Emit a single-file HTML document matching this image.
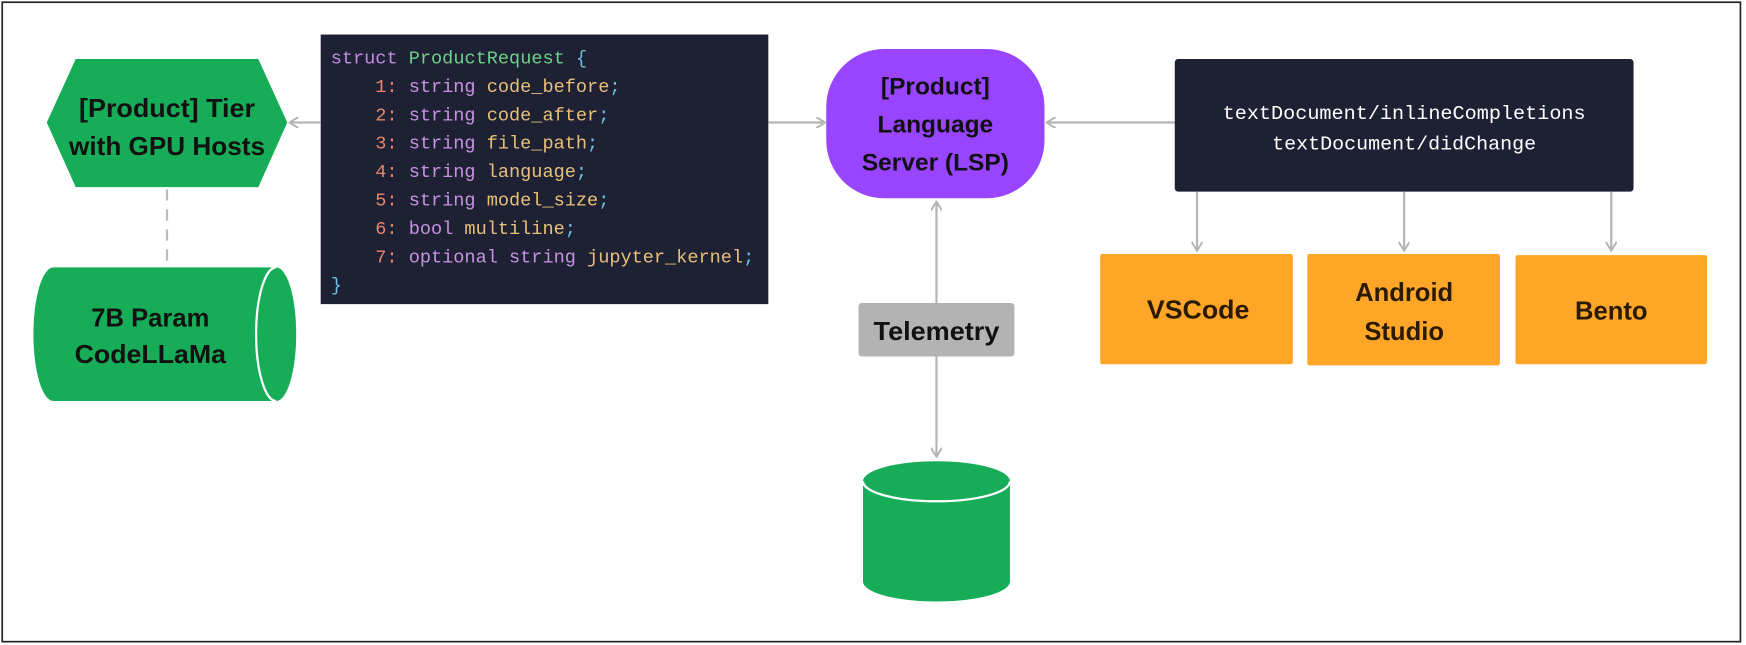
<!DOCTYPE html>
<html><head><meta charset="utf-8"><style>
html,body{margin:0;padding:0;background:#fff;}
svg{display:block;}
.b{font-family:"Liberation Sans",sans-serif;font-weight:bold;text-anchor:middle;}
.m{font-family:"Liberation Mono",monospace;}
</style></head><body>
<svg width="1746" height="645" viewBox="0 0 1568 579" preserveAspectRatio="none" xmlns="http://www.w3.org/2000/svg">
<defs>
<marker id="a" viewBox="0 0 10 10" refX="9" refY="5" markerWidth="10" markerHeight="10" markerUnits="userSpaceOnUse" orient="auto">
<path d="M1,0 L9,5 L1,10" fill="none" stroke="#b5b5b5" stroke-width="1.8"/>
</marker>
</defs>
<rect x="2" y="2" width="1561" height="574" fill="#fff" stroke="#222" stroke-width="1.5"/>

<!-- hexagon -->
<polygon points="42,110 68,53 232,53 258,110 232,168 68,168" fill="#17ad58"/>
<text class="b" x="150" y="105" font-size="23" fill="#111" textLength="158" lengthAdjust="spacingAndGlyphs">[Product] Tier</text>
<text class="b" x="150" y="139" font-size="23" fill="#111" textLength="176" lengthAdjust="spacingAndGlyphs">with GPU Hosts</text>
<line x1="150" y1="170" x2="150" y2="238" stroke="#bbb" stroke-width="2" stroke-dasharray="10,8"/>

<!-- horizontal cylinder -->
<path d="M48,240 L248,240 A18,60 0 0 1 248,360 L48,360 A18,60 0 0 1 48,240 Z" fill="#17ad58"/>
<path d="M248,240 A18,60 0 0 0 248,360" fill="none" stroke="#fff" stroke-width="2"/>
<text class="b" x="135" y="293" font-size="23" fill="#111" textLength="106" lengthAdjust="spacingAndGlyphs">7B Param</text>
<text class="b" x="135" y="326" font-size="23" fill="#111" textLength="136" lengthAdjust="spacingAndGlyphs">CodeLLaMa</text>

<!-- code box -->
<rect x="288" y="31" width="402" height="242" fill="#1e2133"/>
<g class="m" font-size="16.7">
<text x="297" y="57"><tspan fill="#c08ee0">struct </tspan><tspan fill="#6fd08a">ProductRequest </tspan><tspan fill="#6cc0e0">{</tspan></text>
<text x="337" y="82.5"><tspan fill="#e8866a">1: </tspan><tspan fill="#c593e0">string </tspan><tspan fill="#e8c07a">code_before</tspan><tspan fill="#6cc0e0">;</tspan></text>
<text x="337" y="108"><tspan fill="#e8866a">2: </tspan><tspan fill="#c593e0">string </tspan><tspan fill="#e8c07a">code_after</tspan><tspan fill="#6cc0e0">;</tspan></text>
<text x="337" y="133.5"><tspan fill="#e8866a">3: </tspan><tspan fill="#c593e0">string </tspan><tspan fill="#e8c07a">file_path</tspan><tspan fill="#6cc0e0">;</tspan></text>
<text x="337" y="159"><tspan fill="#e8866a">4: </tspan><tspan fill="#c593e0">string </tspan><tspan fill="#e8c07a">language</tspan><tspan fill="#6cc0e0">;</tspan></text>
<text x="337" y="184.5"><tspan fill="#e8866a">5: </tspan><tspan fill="#c593e0">string </tspan><tspan fill="#e8c07a">model_size</tspan><tspan fill="#6cc0e0">;</tspan></text>
<text x="337" y="210"><tspan fill="#e8866a">6: </tspan><tspan fill="#c593e0">bool </tspan><tspan fill="#e8c07a">multiline</tspan><tspan fill="#6cc0e0">;</tspan></text>
<text x="337" y="235.5"><tspan fill="#e8866a">7: </tspan><tspan fill="#c593e0">optional string </tspan><tspan fill="#e8c07a">jupyter_kernel</tspan><tspan fill="#6cc0e0">;</tspan></text>
<text x="297" y="261" fill="#6cc0e0">}</text>
</g>

<!-- arrows horizontal -->
<line x1="288" y1="110" x2="260" y2="110" stroke="#b5b5b5" stroke-width="2" marker-end="url(#a)"/>
<line x1="690" y1="110" x2="741" y2="110" stroke="#b5b5b5" stroke-width="2" marker-end="url(#a)"/>
<line x1="1055" y1="110" x2="940" y2="110" stroke="#b5b5b5" stroke-width="2" marker-end="url(#a)"/>

<!-- LSP -->
<rect x="742" y="44" width="196" height="134" rx="52" fill="#9945ff"/>
<text class="b" x="840" y="85" font-size="22" fill="#111">[Product]</text>
<text class="b" x="840" y="119" font-size="22" fill="#111">Language</text>
<text class="b" x="840" y="153" font-size="22" fill="#111">Server (LSP)</text>

<!-- dark box -->
<rect x="1055" y="53" width="412" height="119" rx="3" fill="#1e2133"/>
<text class="m" x="1261" y="107" font-size="17.5" fill="#fff" text-anchor="middle" textLength="326" lengthAdjust="spacingAndGlyphs">textDocument/inlineCompletions</text>
<text class="m" x="1261" y="134" font-size="17.5" fill="#fff" text-anchor="middle" textLength="237" lengthAdjust="spacingAndGlyphs">textDocument/didChange</text>

<line x1="1075" y1="172" x2="1075" y2="225" stroke="#b5b5b5" stroke-width="2" marker-end="url(#a)"/>
<line x1="1261" y1="172" x2="1261" y2="225" stroke="#b5b5b5" stroke-width="2" marker-end="url(#a)"/>
<line x1="1447" y1="172" x2="1447" y2="225" stroke="#b5b5b5" stroke-width="2" marker-end="url(#a)"/>

<!-- orange boxes -->
<rect x="988" y="228" width="173" height="99" rx="2" fill="#ffa528"/>
<rect x="1174" y="228" width="173" height="100" rx="2" fill="#ffa528"/>
<rect x="1361" y="229" width="172" height="98" rx="2" fill="#ffa528"/>
<text class="b" x="1076" y="286" font-size="23" fill="#2a1a00" textLength="92" lengthAdjust="spacingAndGlyphs">VSCode</text>
<text class="b" x="1261" y="270" font-size="23" fill="#2a1a00">Android</text>
<text class="b" x="1261" y="305" font-size="23" fill="#2a1a00">Studio</text>
<text class="b" x="1447" y="287" font-size="23" fill="#2a1a00">Bento</text>

<!-- telemetry -->
<line x1="841" y1="272" x2="841" y2="181" stroke="#b5b5b5" stroke-width="2" marker-end="url(#a)"/>
<rect x="771" y="272" width="140" height="48" rx="3" fill="#b3b3b3"/>
<text class="b" x="841" y="305" font-size="23" fill="#111" textLength="113" lengthAdjust="spacingAndGlyphs">Telemetry</text>
<line x1="841" y1="320" x2="841" y2="410" stroke="#b5b5b5" stroke-width="2" marker-end="url(#a)"/>

<!-- vertical cylinder -->
<path d="M775,432 A66,18 0 0 1 907,432 L907,522 A66,18 0 0 1 775,522 Z" fill="#17ad58"/>
<path d="M775,432 A66,18 0 0 0 907,432" fill="none" stroke="#fff" stroke-width="2"/>
</svg>
</body></html>
